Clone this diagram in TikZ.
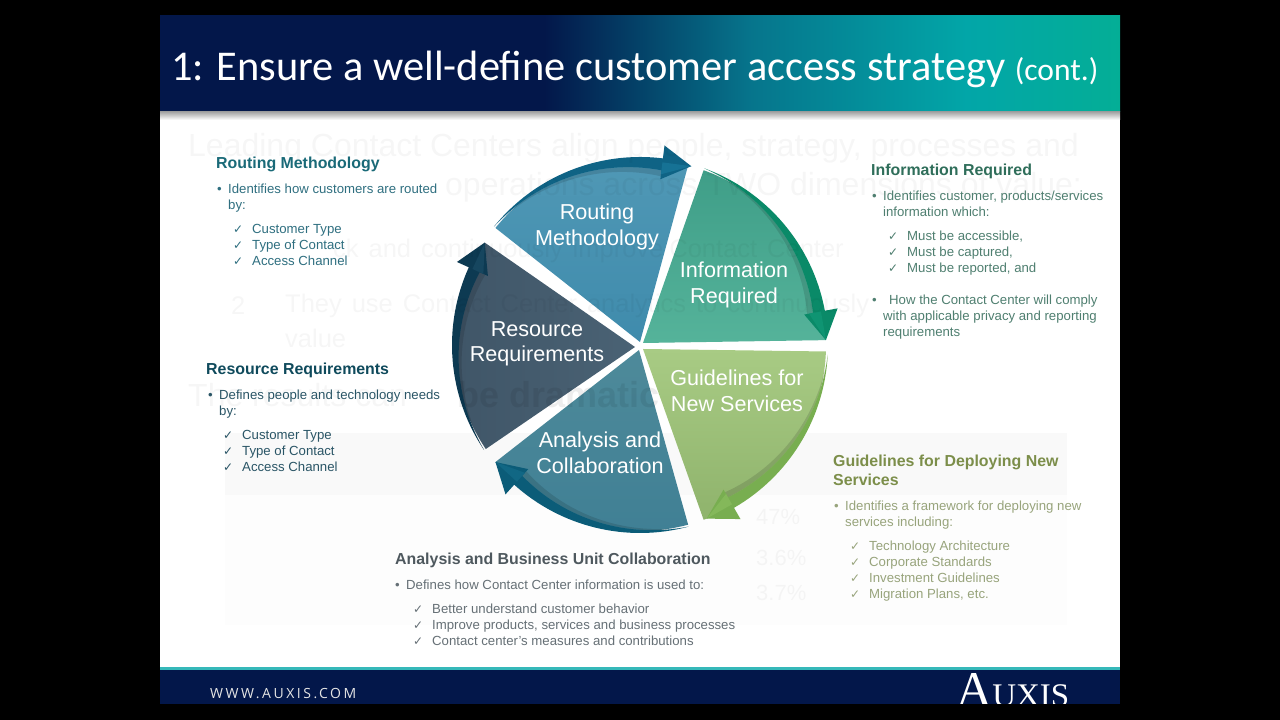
\documentclass[tikz,border=0pt]{standalone}
\usepackage{fontspec}
\setmainfont{Liberation Sans}
\newfontfamily\titlefont{Carlito}
\newfontfamily\checkfont{DejaVu Sans}
\newfontfamily\footfont[LetterSpace=18]{Open Sans}
\newfontfamily\logofont{Liberation Serif}
\newfontfamily\ghostfont[WordSpace=1.4]{Liberation Sans}

\definecolor{navyband}{HTML}{03174A}
\definecolor{tealband}{HTML}{06758C}
\definecolor{aquaband}{HTML}{02A6A8}
\definecolor{greenband}{HTML}{04AE96}
\definecolor{ghost}{HTML}{F6F6F6}
\definecolor{routingtop}{HTML}{5199B6}
\definecolor{routingbot}{HTML}{3F8BAC}
\definecolor{infotop}{HTML}{3F9E88}
\definecolor{infobot}{HTML}{55B39A}
\definecolor{guidetop}{HTML}{A8CB84}
\definecolor{guidebot}{HTML}{8FB36C}
\definecolor{analysistop}{HTML}{3F7F94}
\definecolor{analysisbot}{HTML}{4E8A9A}
\definecolor{resourcetop}{HTML}{3F5567}
\definecolor{resourcebot}{HTML}{4A6274}
\definecolor{routingdark}{HTML}{0F6385}
\definecolor{routinglight}{HTML}{1A7C9F}
\definecolor{infodark}{HTML}{0A8A68}
\definecolor{infolight}{HTML}{129A78}
\definecolor{guidedark}{HTML}{78AE50}
\definecolor{guidelight}{HTML}{8CBF60}
\definecolor{analysisdark}{HTML}{0B5C78}
\definecolor{analysislight}{HTML}{156F8C}
\definecolor{resourcedark}{HTML}{0D3A52}
\definecolor{resourcelight}{HTML}{1C4E68}
\definecolor{routinghead}{HTML}{1A6A78}
\definecolor{routingbody}{HTML}{2F6F80}
\definecolor{resourcehead}{HTML}{0F4A5C}
\definecolor{resourcebody}{HTML}{2A5566}
\definecolor{infohead}{HTML}{2F6E5A}
\definecolor{infobody}{HTML}{4F7F70}
\definecolor{guidehead}{HTML}{7C8E4A}
\definecolor{guidebody}{HTML}{98A47C}
\definecolor{analysishead}{HTML}{4E585E}
\definecolor{analysisbody}{HTML}{667076}

\pgfdeclarehorizontalshading{titleband}{100bp}{color(0bp)=(navyband); color(45bp)=(navyband); color(55.8bp)=(tealband); color(67bp)=(aquaband); color(75bp)=(greenband); color(100bp)=(greenband)}

\newcommand{\chk}{\makebox[19pt][l]{\checkfont\fontsize{12}{12}\selectfont ✓}}
\newcommand{\blt}{\makebox[11pt][l]{•}}

% start angle, tip angle, dark colour, light colour
\newcommand{\wheelarrow}[4]{
    \pgfmathsetmacro{\neck}{#2+9}
    \fill[black, opacity=0.12] plot[domain=\neck:#1, samples=30] (\x:{188-12*(#1-\x)/(#1-\neck)})
        -- plot[domain=#1:\neck, samples=30] (\x:{188-18*(#1-\x)/(#1-\neck)}) -- cycle;
    \fill[#3] (#1:188) arc[start angle=#1, end angle=\neck, radius=188pt] -- (\neck:201) -- (#2:186) -- (\neck:167) -- (\neck:176)
        -- plot[domain=\neck:#1, samples=30] (\x:{188-12*(#1-\x)/(#1-\neck)}) -- cycle;
    \fill[#4!60!#3] (\neck:184) -- (#2:186) -- (\neck:172) -- cycle;
}

\tikzset{
    wedgelabel/.style={text=white, align=center, inner sep=0pt, font=\fontsize{21.6}{25.5}\selectfont},
    paneltitle/.style={anchor=west, inner sep=0pt, align=left, font=\bfseries\fontsize{15.9}{19}\selectfont},
    paneltext/.style={anchor=north west, inner sep=0pt, align=left, font=\fontsize{13.2}{16}\selectfont},
    ghosttext/.style={anchor=west, inner sep=0pt, text=black, text opacity=0.035, font=\fontsize{32}{32}\selectfont},
    ghostsmall/.style={ghosttext, font=\ghostfont\fontsize{25.5}{26}\selectfont}
}

\begin{document}
\begin{tikzpicture}[x=1pt, y=1pt]
    \useasboundingbox (0,0) rectangle (1280,720);

    %Slide
    \fill[black] (0,0) rectangle (1280,720);
    \fill[white] (160,16) rectangle (1120,704);
    \fill[ghost!70] (225,287) rectangle (1067,225);
    \fill[ghost!25] (225,225) rectangle (1067,95);

    %Title band
    \shade[shading=titleband] (160,608) rectangle (1120,704);
    \shade[top color=black!35, bottom color=white] (160,608) rectangle (1120,600);
    \node[anchor=west, inner sep=0pt, text=white, font=\titlefont\fontsize{42.4}{42}\selectfont] (title) at (171,651)
        {1: Ensure a well-define customer access strategy {\fontsize{31.5}{31}\selectfont (cont.)}};

    %Footer
    \fill[navyband] (160,16) rectangle (1120,50);
    \fill[aquaband!80!white] (160,50) rectangle (1120,53);
    \node[anchor=west, inner sep=0pt, text=black!10, font=\footfont\fontsize{14}{14}\selectfont] (site) at (210,26) {WWW.AUXIS.COM};
    \node[anchor=base west, inner sep=0pt, text=white, font=\logofont\fontsize{50}{50}\selectfont] (logo) at (956,13)
        {A\fontsize{33}{33}\selectfont UXIS};
    \fill[black] (160,0) rectangle (1120,16);

    %Wheel
    \begin{scope}[shift={(640,375)}]
        \shade[top color=routingtop, bottom color=routingbot] (0,3) -- (141:186) arc[start angle=141, end angle=75, radius=186pt] -- cycle;
        \shade[top color=infotop, bottom color=infobot] (3,2) -- (70:186) arc[start angle=70, end angle=1.5, radius=186pt] -- cycle;
        \shade[top color=guidetop, bottom color=guidebot] (3,-4) -- (-2:186) arc[start angle=-2, end angle=-70, radius=186pt] -- cycle;
        \shade[top color=analysisbot, bottom color=analysistop] (-1,-5) -- (-75:186) arc[start angle=-75, end angle=-141, radius=186pt] -- cycle;
        \shade[left color=resourcetop, right color=resourcebot] (-5,-2) -- (-146:186) arc[start angle=-146, end angle=-213.4, radius=186pt] -- cycle;

        \wheelarrow{141}{74}{routingdark}{routinglight}
        \wheelarrow{70}{1.5}{infodark}{infolight}
        \wheelarrow{-3}{-69}{guidedark}{guidelight}
        \wheelarrow{-75}{-141}{analysisdark}{analysislight}
        \wheelarrow{-146}{-213.4}{resourcedark}{resourcelight}
    \end{scope}

    %Faded text over the wheel
    \node[ghosttext] (ghostone) at (188,572) {Leading Contact Centers align people, strategy, processes and};
    \node[ghosttext] (ghosttwo) at (445,533) {operations across TWO dimensions of value:};
    \node[ghostsmall] (ghostthree) at (333,469) {ck and continuously improve\hspace{6pt}Contact Center};
    \node[ghostsmall] (ghostnumber) at (231,414) {2};
    \node[ghostsmall] (ghostfour) at (285,414) {They use Contact Center analytics to continuously};
    \node[ghostsmall] (ghostfive) at (285,382) {value};
    \node[ghosttext] (ghostsix) at (188,325) {The results can};
    \node[ghosttext, text opacity=0.07, font=\bfseries\fontsize{36}{36}\selectfont] (ghostseven) at (457,325) {be dramatic};
    \node[ghosttext, font=\fontsize{22}{22}\selectfont] (ghosteight) at (756,203) {47\%};
    \node[ghosttext, font=\fontsize{22}{22}\selectfont] (ghostnine) at (756,162) {3.6\%};
    \node[ghosttext, font=\fontsize{22}{22}\selectfont] (ghostten) at (756,127) {3.7\%};

    \node[wedgelabel] (routing) at (597,493) {Routing\\Methodology};
    \node[wedgelabel] (information) at (734,435) {Information\\Required};
    \node[wedgelabel] (guidelines) at (737,329) {Guidelines for\\New Services};
    \node[wedgelabel] (analysis) at (600,267) {Analysis and\\Collaboration};
    \node[wedgelabel] (resource) at (537,376) {Resource\\Requirements};

    %Routing text
    \node[paneltitle, text=routinghead] (routingtitle) at (216,556) {Routing Methodology};
    \node[paneltext, text=routingbody] (routingtext) at (217,536) {\blt Identifies how customers are routed\\\hspace*{11pt}by:};
    \node[paneltext, text=routingbody] (routinglist) at (233,496) {\chk Customer Type\\\chk Type of Contact\\\chk Access Channel};

    %Resource text
    \node[paneltitle, text=resourcehead] (resourcetitle) at (206,350) {Resource Requirements};
    \node[paneltext, text=resourcebody] (resourcetext) at (208,330) {\blt Defines people and technology needs\\\hspace*{11pt}by:};
    \node[paneltext, text=resourcebody] (resourcelist) at (223,290) {\chk Customer Type\\\chk Type of Contact\\\chk Access Channel};

    %Information text
    \node[paneltitle, text=infohead] (infotitle) at (871,549) {Information Required};
    \node[paneltext, text=infobody] (infotext) at (872,529) {\blt Identifies customer, products/services\\\hspace*{11pt}information which:};
    \node[paneltext, text=infobody] (infolist) at (888,489) {\chk Must be accessible,\\\chk Must be captured,\\\chk Must be reported, and};
    \node[paneltext, text=infobody] (infonote) at (872,425) {\blt\hspace*{6pt}How the Contact Center will comply\\\hspace*{11pt}with applicable privacy and reporting\\\hspace*{11pt}requirements};

    %Guidelines text
    \node[paneltitle, text=guidehead, anchor=north west] (guidetitle) at (833,265) {Guidelines for Deploying New\\Services};
    \node[paneltext, text=guidebody] (guidetext) at (834,219) {\blt Identifies a framework for deploying new\\\hspace*{11pt}services including:};
    \node[paneltext, text=guidebody] (guidelist) at (850,179) {\chk Technology Architecture\\\chk Corporate Standards\\\chk Investment Guidelines\\\chk Migration Plans, etc.};

    %Analysis text
    \node[paneltitle, text=analysishead] (analysistitle) at (395,160) {Analysis and Business Unit Collaboration};
    \node[paneltext, text=analysisbody] (analysistext) at (395,140) {\blt Defines how Contact Center information is used to:};
    \node[paneltext, text=analysisbody] (analysislist) at (413,116) {\chk Better understand customer behavior\\\chk Improve products, services and business processes\\\chk Contact center's measures and contributions};
\end{tikzpicture}
\end{document}
